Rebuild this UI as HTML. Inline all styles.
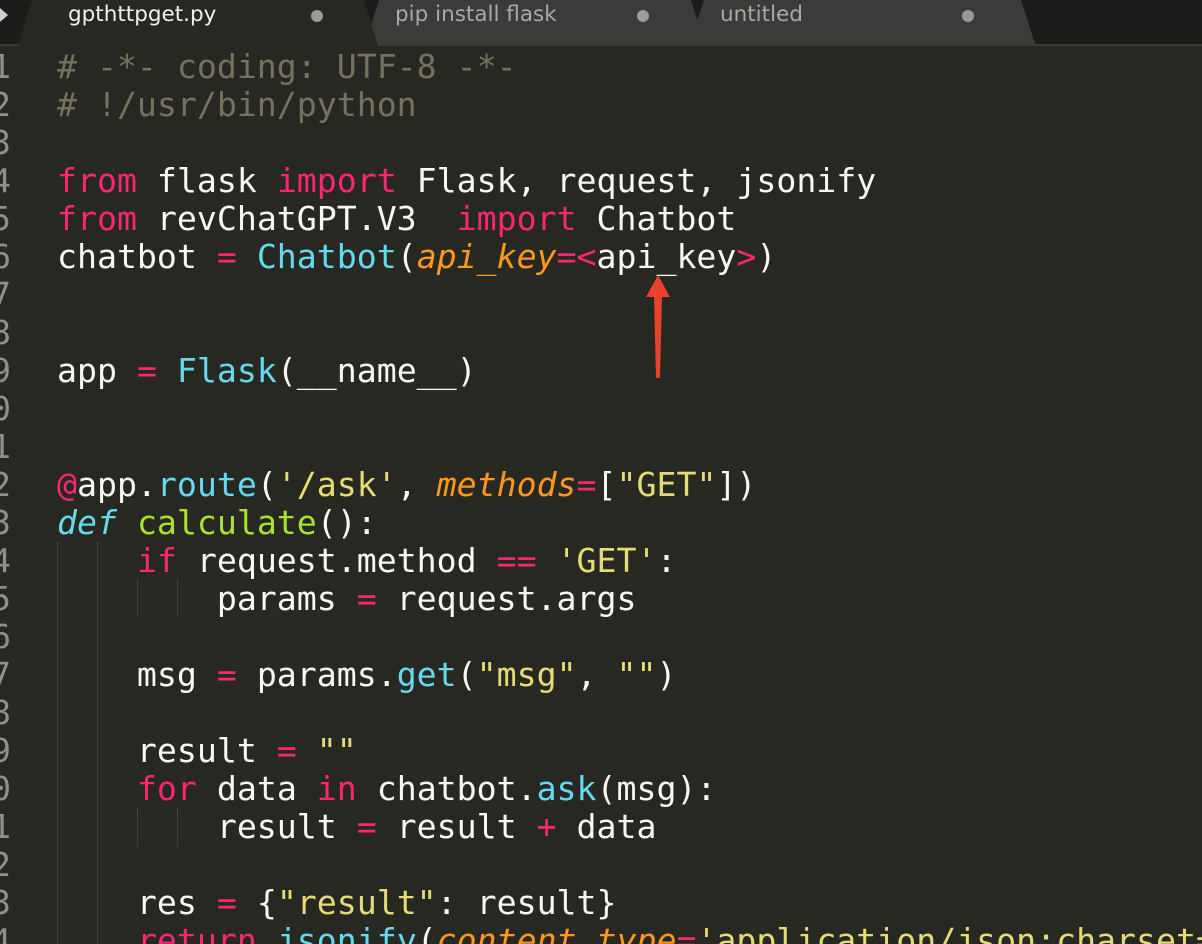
<!DOCTYPE html>
<html><head><meta charset="utf-8"><style>
html,body{margin:0;width:1202px;height:944px;overflow:hidden}
body{background:#272822;position:relative;font-family:"DejaVu Sans Mono","Liberation Mono",monospace}
#bar{position:absolute;left:0;top:0;width:1202px;height:44px;background:#1b1b19;border-bottom:2px solid #3a3a37}
.tab{position:absolute;top:0;height:44px;font-family:"DejaVu Sans","Liberation Sans",sans-serif;font-size:21.5px;line-height:30px}
.tab .t{position:absolute;top:0;left:0;right:0;bottom:0;clip-path:polygon(0 100%,14px 0,calc(100% - 14px) 0,100% 100%)}
.tab span{position:absolute;top:0}
.dot{position:absolute;top:10px;width:12px;height:12px;border-radius:50%;background:#9a9a98}
#code{position:absolute;left:57px;top:48px;width:1145px;height:896px;overflow:hidden;font-size:33.2px;line-height:38px;color:#f8f8f2;white-space:pre}
#ln{position:absolute;left:0;width:11px;top:48px;height:896px;overflow:hidden;font-size:33.2px;line-height:38px;color:#8f908a;white-space:pre;direction:rtl;text-align:left}
.c{color:#75715e}.k{color:#f92672}.f{color:#66d9ef}.a{color:#fd971f;font-style:italic}.s{color:#e6db74}.g{color:#a6e22e}.i{color:#66d9ef;font-style:italic}
.guide{position:absolute;width:0;border-left:1px dotted #55554f}
</style></head><body>
<div id="bar"></div>
<div class="tab" style="left:690px;width:345px"><div class="t" style="background:#3b3b39"></div><span style="left:30px;color:#a9a9a6">untitled</span><div class="dot" style="left:272px"></div></div>
<div class="tab" style="left:365px;width:340px"><div class="t" style="background:#3b3b39"></div><span style="left:30px;color:#a9a9a6">pip install flask</span><div class="dot" style="left:272px"></div></div>
<div class="tab" style="left:18px;width:360px;height:46px"><div class="t" style="background:#272822"></div><span style="left:50px;color:#f0f0ee">gpthttpget.py</span><div class="dot" style="left:293px"></div></div>
<div style="position:absolute;left:0;top:8px;width:0;height:0;border-top:7px solid transparent;border-bottom:7px solid transparent;border-left:8px solid #cfcfcd"></div>
<div id="ln">1
2
3
4
5
6
7
8
9
0
1
2
3
4
5
6
7
8
9
0
1
2
3
4</div>
<div class="guide" style="left:57px;top:542px;height:402px"></div>
<div class="guide" style="left:97px;top:542px;height:402px"></div>
<div class="guide" style="left:137px;top:580px;height:38px"></div>
<div class="guide" style="left:177px;top:580px;height:38px"></div>
<div class="guide" style="left:137px;top:808px;height:38px"></div>
<div class="guide" style="left:177px;top:808px;height:38px"></div>
<div id="code"><span class="c"># -*- coding: UTF-8 -*-</span>
<span class="c"># !/usr/bin/python</span>

<span class="k">from</span> flask <span class="k">import</span> Flask, request, jsonify
<span class="k">from</span> revChatGPT.V3  <span class="k">import</span> Chatbot
chatbot <span class="k">=</span> <span class="f">Chatbot</span>(<span class="a">api_key</span><span class="k">=&lt;</span>api_key<span class="k">&gt;</span>)


app <span class="k">=</span> <span class="f">Flask</span>(__name__)


<span class="k">@</span>app.<span class="f">route</span>(<span class="s">'/ask'</span>, <span class="a">methods</span><span class="k">=</span>[<span class="s">"GET"</span>])
<span class="i">def</span> <span class="g">calculate</span>():
    <span class="k">if</span> request.method <span class="k">==</span> <span class="s">'GET'</span>:
        params <span class="k">=</span> request.args

    msg <span class="k">=</span> params.<span class="f">get</span>(<span class="s">"msg"</span>, <span class="s">""</span>)

    result <span class="k">=</span> <span class="s">""</span>
    <span class="k">for</span> data <span class="k">in</span> chatbot.<span class="f">ask</span>(msg):
        result <span class="k">=</span> result <span class="k">+</span> data

    res <span class="k">=</span> {<span class="s">"result"</span>: result}
    <span class="k">return</span> <span class="f">jsonify</span>(<span class="a">content_type</span><span class="k">=</span><span class="s">'application/json;charset=</span></div>
<svg style="position:absolute;left:0;top:0" width="1202" height="944"><polygon points="658,275 670,297 662,297 660,378 656,378 654,297 646,297" fill="#e8412c"/></svg>
</body></html>
